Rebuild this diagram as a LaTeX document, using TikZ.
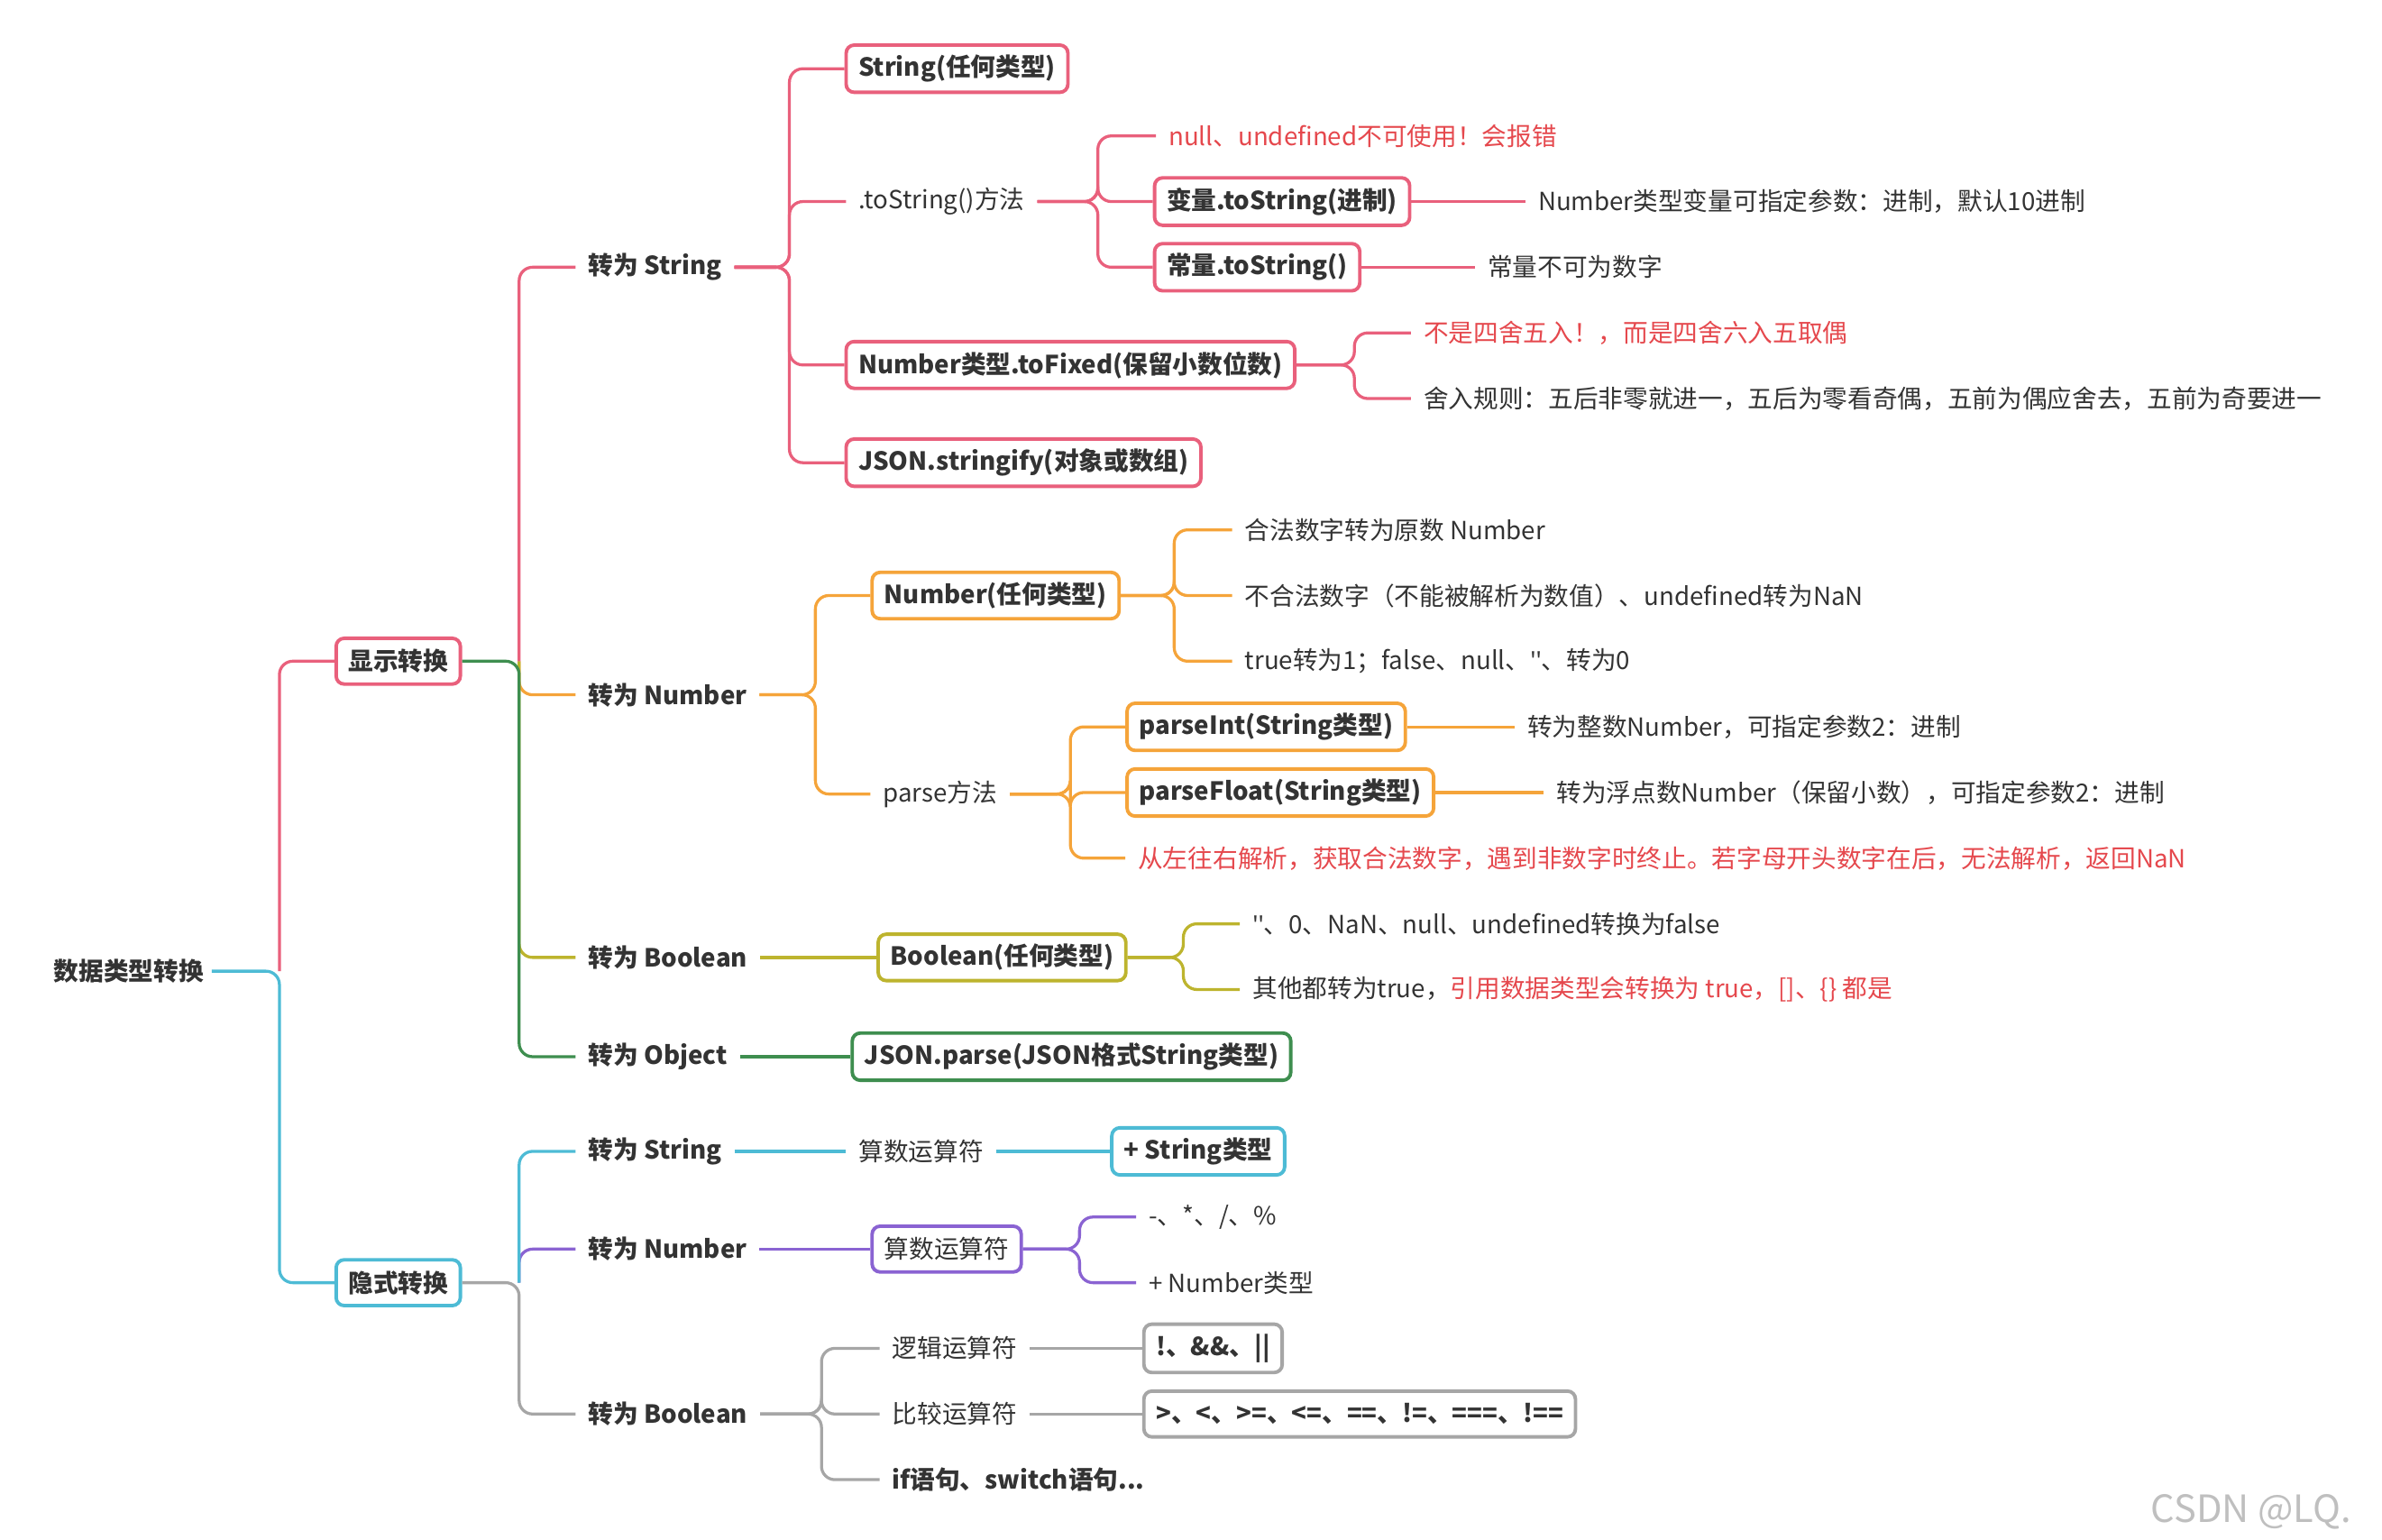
\documentclass[tikz,border=0pt]{standalone}
\usepackage{fontspec}
\setmainfont{Noto Sans CJK SC}
\newfontfamily\latf{Noto Sans}
\begin{document}
\definecolor{cR}{HTML}{E9607C}
\definecolor{cO}{HTML}{F5A43A}
\definecolor{cY}{HTML}{BDB42E}
\definecolor{cG}{HTML}{3E8E4F}
\definecolor{cC}{HTML}{4DBBD5}
\definecolor{cP}{HTML}{8A63D2}
\definecolor{cA}{HTML}{A6A6A6}
\definecolor{tR}{HTML}{E5484D}
\definecolor{tx}{HTML}{333333}
\newcommand{\sq}{{\latf\symbol{39}\symbol{39}}}
\begin{tikzpicture}[x=0.02cm,y=-0.02cm,
  every node/.style={font=\fontsize{9.3}{11}\selectfont,text=tx,anchor=west,inner xsep=0.16cm,inner ysep=0.1cm},
  bx/.style={draw=#1,line width=1.3pt,rounded corners=3pt,font=\fontsize{9.3}{11}\selectfont\bfseries,fill=white,inner ysep=0.13cm,minimum height=0.6cm},
  bt/.style={font=\fontsize{9.3}{11}\selectfont\bfseries},
  rt/.style={text=tR},
  ln/.style={draw=#1,line width=1.1pt,rounded corners=5pt}]
\useasboundingbox (0,0) rectangle (1560,1008.5);
\coordinate (B0) at (183,0);
\coordinate (B1) at (340,0);
\coordinate (BS) at (517,0);
\coordinate (BT) at (719,0);
\coordinate (BF) at (887,0);
\coordinate (BN) at (534,0);
\coordinate (BNN) at (769,0);
\coordinate (BP) at (701,0);
\coordinate (BB) at (775,0);
\coordinate (B2) at (340,0);
\coordinate (BIN) at (707,0);
\coordinate (BIB) at (538,0);

\node[bt,inner xsep=0.1cm] (root) at (30,636) {数据类型转换};
\node[bx=cR] (xs) at (219,433) {显示转换};
\node[bx=cC] (ys) at (219,840) {隐式转换};
\draw[ln=cC] (root.east) -- (root.east -| B0) |- (ys.west);
\draw[ln=cR] (root.east -| B0) |- (xs.west);

% explicit
\node[bt] (s1) at (377,175) {转为 String};
\node[bt] (n1) at (377,455) {转为 Number};
\node[bt] (b1) at (377,627) {转为 Boolean};
\node[bt] (o1) at (377,692) {转为 Object};
\draw[ln=cO] (xs.east -| B1) |- (n1.west);
\draw[ln=cY] (xs.east -| B1) |- (b1.west);
\draw[ln=cR] (xs.east -| B1) |- (s1.west);
\draw[ln=cG] (xs.east) -- (xs.east -| B1) |- (o1.west);

% String
\node[bx=cR] (s11) at (553,45) {String(任何类型)};
\node (s12) at (554,132) {.toString()方法};
\node[bx=cR] (s13) at (553,239) {Number类型.toFixed(保留小数位数)};
\node[bx=cR] (s14) at (553,303) {JSON.stringify(对象或数组)};
\foreach \c in {s11,s12,s13,s14} \draw[ln=cR] (s1.east) -- (s1.east -| BS) |- (\c.west);
\node[rt] (t1) at (757,89) {null、undefined不可使用！会报错};
\node[bx=cR] (t2) at (755,132) {变量.toString(进制)};
\node[bx=cR] (t3) at (755,175) {常量.toString()};
\foreach \c in {t1,t2,t3} \draw[ln=cR] (s12.east) -- (s12.east -| BT) |- (\c.west);
\node (t21) at (999,132) {Number类型变量可指定参数：进制，默认10进制};
\node (t31) at (966,175) {常量不可为数字};
\draw[ln=cR] (t2.east) -- (t21.west);
\draw[ln=cR] (t3.east) -- (t31.west);
\node[rt] (f1) at (924,218) {不是四舍五入！，而是四舍六入五取偶};
\node (f2) at (924,261) {舍入规则：五后非零就进一，五后为零看奇偶，五前为偶应舍去，五前为奇要进一};
\foreach \c in {f1,f2} \draw[ln=cR] (s13.east) -- (s13.east -| BF) |- (\c.west);

% Number
\node[bx=cO] (n11) at (570,390) {Number(任何类型)};
\node (n12) at (570,520) {parse方法};
\foreach \c in {n11,n12} \draw[ln=cO] (n1.east) -- (n1.east -| BN) |- (\c.west);
\node (a1) at (807,347) {合法数字转为原数 Number};
\node (a2) at (807,390) {不合法数字（不能被解析为数值）、undefined转为NaN};
\node (a3) at (807,433) {true转为1；false、null、\sq、转为0};
\foreach \c in {a1,a2,a3} \draw[ln=cO] (n11.east) -- (n11.east -| BNN) |- (\c.west);
\node[bx=cO] (p1) at (737,476) {parseInt(String类型)};
\node[bx=cO] (p2) at (737,519) {parseFloat(String类型)};
\node[rt] (p3) at (737,562) {从左往右解析，获取合法数字，遇到非数字时终止。若字母开头数字在后，无法解析，返回NaN};
\foreach \c in {p1,p2,p3} \draw[ln=cO] (n12.east) -- (n12.east -| BP) |- (\c.west);
\node (p11) at (992,476) {转为整数Number，可指定参数2：进制};
\node (p21) at (1011,519) {转为浮点数Number（保留小数），可指定参数2：进制};
\draw[ln=cO] (p1.east) -- (p11.west);
\draw[ln=cO] (p2.east) -- (p21.west);

% Boolean
\node[bx=cY] (b11) at (574,627) {Boolean(任何类型)};
\draw[ln=cY] (b1.east) -- (b11.west);
\node (c1) at (812,605) {\sq、0、NaN、null、undefined转换为false};
\node (c2) at (812,648) {其他都转为true，\textcolor{tR}{引用数据类型会转换为 true，[]、\{\} 都是}};
\foreach \c in {c1,c2} \draw[ln=cY] (b11.east) -- (b11.east -| BB) |- (\c.west);

% Object
\node[bx=cG] (o11) at (557,692) {JSON.parse(JSON格式String类型)};
\draw[ln=cG] (o1.east) -- (o11.west);

% implicit
\node[bt] (s2) at (377,754) {转为 String};
\node[bt] (n2) at (377,818) {转为 Number};
\node[bt] (b2) at (377,926) {转为 Boolean};
\draw[ln=cA] (ys.east) -- (ys.east -| B2) |- (b2.west);
\draw[ln=cP] (ys.east -| B2) |- (n2.west);
\draw[ln=cC] (ys.east -| B2) |- (s2.west);

\node (s21) at (554,754) {算数运算符};
\node[bx=cC] (s22) at (727,754) {+ String类型};
\draw[ln=cC] (s2.east) -- (s21.west);
\draw[ln=cC] (s21.east) -- (s22.west);

\node[bx=cP,font=\fontsize{9.3}{11}\selectfont] (n21) at (570,818) {算数运算符};
\draw[ln=cP] (n2.east) -- (n21.west);
\node (m1) at (744,797) {-、*、/、\%};
\node (m2) at (744,840) {+ Number类型};
\foreach \c in {m1,m2} \draw[ln=cP] (n21.east) -- (n21.east -| BIN) |- (\c.west);

\node (l1) at (576,883) {逻辑运算符};
\node (l2) at (576,926) {比较运算符};
\node[bt] (l3) at (576,969) {if语句、switch语句...};
\foreach \c in {l1,l2,l3} \draw[ln=cA] (b2.east) -- (b2.east -| BIB) |- (\c.west);
\node[bx=cA] (l11) at (748,883) {!、\&\&、||};
\node[bx=cA] (l21) at (748,926) {>、<、>=、<=、==、!=、===、!==};
\draw[ln=cA] (l1.east) -- (l11.west);
\draw[ln=cA] (l2.east) -- (l21.west);

\node[text=black!25,font=\fontsize{14}{16}\selectfont,anchor=east] (wm) at (1548,990) {CSDN @LQ.};
\end{tikzpicture}
\end{document}
